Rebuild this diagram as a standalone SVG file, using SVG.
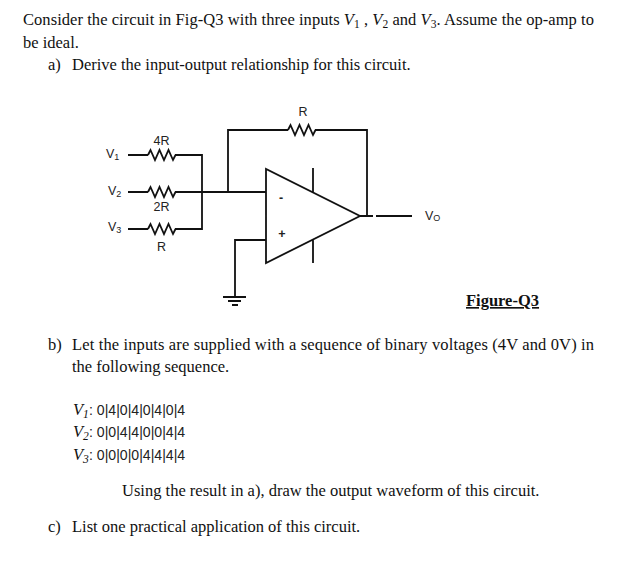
<svg xmlns="http://www.w3.org/2000/svg" width="637" height="563" viewBox="0 0 637 563">
<style>
.t{font-family:"Liberation Serif","Times New Roman",serif;font-size:16.5px;fill:#111}
.s{font-family:"Liberation Sans",Arial,sans-serif;font-size:12.5px;fill:#222}
.n{font-family:"Liberation Sans",Arial,sans-serif;font-size:14.100px;fill:#222}
.i{font-family:"Liberation Serif","Times New Roman",serif;font-size:16.500px;font-style:italic;fill:#111}
.w{fill:none;stroke:#111;stroke-width:1.8}
.b{font-size:11.500px}
</style>
<rect width="637" height="563" fill="#fff"/>
<g id="text">
<text class="t" x="23" y="25" textLength="571" lengthAdjust="spacing">Consider the circuit in Fig-Q3 with three inputs <tspan class="i">V</tspan><tspan class="b" dy="3">1</tspan><tspan dy="-3"> , </tspan><tspan class="i">V</tspan><tspan class="b" dy="3">2</tspan><tspan dy="-3"> and </tspan><tspan class="i">V</tspan><tspan class="b" dy="3">3</tspan><tspan dy="-3">. Assume the op-amp to</tspan></text>
<text class="t" x="23" y="47.500">be ideal.</text>
<text class="t" x="48" y="69.500">a)</text>
<text class="t" x="72" y="69.500">Derive the input-output relationship for this circuit.</text>
<text class="t" x="466" y="306" font-weight="bold" text-decoration="underline">Figure-Q3</text>
<text class="t" x="48" y="349.500">b)</text>
<text class="t" x="72" y="349.500" textLength="522" lengthAdjust="spacing">Let the inputs are supplied with a sequence of binary voltages (4V and 0V) in</text>
<text class="t" x="72" y="371.500">the following sequence.</text>
<text class="i" x="73" y="415">V<tspan class="b" dy="3">1</tspan></text><text class="n" x="89" y="415">: 0|4|0|4|0|4|0|4</text>
<text class="i" x="73" y="437">V<tspan class="b" dy="3">2</tspan></text><text class="n" x="89" y="437">: 0|0|4|4|0|0|4|4</text>
<text class="i" x="73" y="460">V<tspan class="b" dy="3">3</tspan></text><text class="n" x="89" y="460">: 0|0|0|0|4|4|4|4</text>
<text class="t" x="122" y="495.500">Using the result in a), draw the output waveform of this circuit.</text>
<text class="t" x="48" y="531.500">c)</text>
<text class="t" x="72" y="531.500">List one practical application of this circuit.</text>
</g>
<g id="connectors">
<path class="w" d="M128 155H148M175 155H202V229H175M148 229H128M128 192H148M175 192H266M228 192V130H288M315 130H367V216M360 216H373M376 216H412M266 240H235V297"/>
</g>
<g id="R1"><path class="w" d="M148 155l2.500-5 4.500 10 4.500-10 4.500 10 4.500-10 4.500 10 2.500-5"/><text class="s" x="161.500" y="145" text-anchor="middle">4R</text></g>
<g id="R2"><path class="w" d="M148 192l2.500-5 4.500 10 4.500-10 4.500 10 4.500-10 4.500 10 2.500-5"/><text class="s" x="161.500" y="211" text-anchor="middle">2R</text></g>
<g id="R3"><path class="w" d="M148 229l2.500-5 4.500 10 4.500-10 4.500 10 4.500-10 4.500 10 2.500-5"/><text class="s" x="161.500" y="251" text-anchor="middle">R</text></g>
<g id="Rf"><path class="w" d="M288 130l2.500-5 4.500 10 4.500-10 4.500 10 4.500-10 4.500 10 2.500-5"/><text class="s" x="303" y="116" text-anchor="middle">R</text></g>
<g id="V1"><text class="s" x="106" y="158">V<tspan font-size="9" dy="2">1</tspan></text></g>
<g id="V2"><text class="s" x="108" y="195">V<tspan font-size="9" dy="2">2</tspan></text></g>
<g id="V3"><text class="s" x="108" y="231">V<tspan font-size="9" dy="2">3</tspan></text></g>
<g id="Vo"><text class="s" x="425" y="220">V<tspan font-size="9" dy="1">O</tspan></text></g>
<g id="opamp">
<path class="w" d="M266 169V263L360 216ZM313 168V193M313 240V263"/>
<text class="s" x="281" y="202" text-anchor="middle" font-weight="bold" font-size="11">-</text>
<text class="s" x="282" y="238" text-anchor="middle" font-weight="bold" font-size="10">+</text>
</g>
<g id="ground"><path class="w" d="M223 297H246M228 301H241M232 305H238"/></g>
</svg>
